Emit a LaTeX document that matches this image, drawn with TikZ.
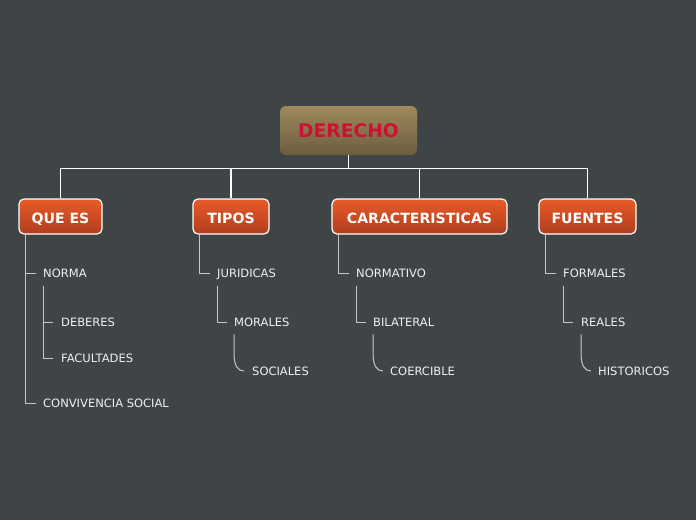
\documentclass[tikz,border=0pt]{standalone}
\usepackage{fontspec}
\setmainfont{DejaVu Sans}
\begin{document}
\begin{tikzpicture}[x=1pt,y=-1pt,
  rootbox/.style={draw=none,rounded corners=6pt,top color=rootTop,bottom color=rootBot,
    minimum width=137pt,minimum height=49pt,inner sep=0pt,text height=13.5pt,text depth=0pt,
    font=\fontsize{18.7}{20}\selectfont\bfseries,text=rootText},
  topicbox/.style={draw=white,line width=1.2pt,rounded corners=5pt,top color=boxTop,bottom color=boxBot,
    minimum height=35pt,inner sep=0pt,text height=13.3pt,text depth=0pt,
    font=\fontsize{14.1}{15}\selectfont\bfseries,text=white},
  leaf/.style={anchor=west,inner sep=0pt,text height=8.4pt,text depth=0pt,
    font=\fontsize{11.5}{12}\selectfont,text=leafText},
  trunk/.style={draw=white,line width=1.4pt},
  stem/.style={draw=stemCol,line width=1pt}]
\definecolor{bg}{HTML}{3F4546}
\definecolor{rootTop}{HTML}{A08A5C}
\definecolor{rootBot}{HTML}{6C5D40}
\definecolor{rootText}{HTML}{CC1133}
\definecolor{boxTop}{HTML}{E85A28}
\definecolor{boxBot}{HTML}{B03E1E}
\definecolor{leafText}{HTML}{F0F0F0}
\definecolor{stemCol}{HTML}{C4C7C7}
\fill[bg] (0,0) rectangle (696,520);
\useasboundingbox (0,0) rectangle (696,520);

\node[rootbox] (root) at (348.5,130.5) {DERECHO};
\node[topicbox,minimum width=83pt] (qe) at (60.5,216.5) {QUE ES};
\node[topicbox,minimum width=76pt] (tipos) at (231,216.5) {TIPOS};
\node[topicbox,minimum width=175pt] (car) at (419.5,216.5) {CARACTERISTICAS};
\node[topicbox,minimum width=97pt] (fue) at (587.5,216.5) {FUENTES};

\coordinate (bar) at ([yshift=-13pt]root.south);
\draw[trunk] (root.south) -- (bar);
\draw[trunk] (bar) -| (qe.north);
\draw[trunk] (bar) -| (tipos.north);
\draw[trunk] (bar) -| (car.north);
\draw[trunk] (bar) -| (fue.north);

% QUE ES
\node[leaf] (norma) at (43,273) {NORMA};
\node[leaf] (deberes) at (61,322) {DEBERES};
\node[leaf] (facultades) at (61,358) {FACULTADES};
\node[leaf] (conv) at (43,403) {CONVIVENCIA SOCIAL};
\draw[stem] ([xshift=7pt]qe.south west) |- ([xshift=-7pt]norma.west);
\draw[stem] ([xshift=7pt]qe.south west) |- ([xshift=-7pt]conv.west);
\draw[stem] ([yshift=-9pt]norma.south west) |- ([xshift=-8pt]deberes.west);
\draw[stem] ([yshift=-9pt]norma.south west) |- ([xshift=-8pt]facultades.west);

% TIPOS
\node[leaf] (jur) at (217,273) {JURIDICAS};
\node[leaf] (mor) at (234,322) {MORALES};
\node[leaf] (soc) at (252,371) {SOCIALES};
\draw[stem] ([xshift=7pt]tipos.south west) |- ([xshift=-7pt]jur.west);
\draw[stem] ([yshift=-9pt]jur.south west) |- ([xshift=-7pt]mor.west);
\draw[stem] ([yshift=-8pt]mor.south west) -- ++(0,18) .. controls +(0,14) and +(-6,0) .. ([xshift=-8pt]soc.west);

% CARACTERISTICAS
\node[leaf] (nor) at (356,273) {NORMATIVO};
\node[leaf] (bil) at (373,322) {BILATERAL};
\node[leaf] (coe) at (390,371) {COERCIBLE};
\draw[stem] ([xshift=7pt]car.south west) |- ([xshift=-7pt]nor.west);
\draw[stem] ([yshift=-9pt]nor.south west) |- ([xshift=-7pt]bil.west);
\draw[stem] ([yshift=-8pt]bil.south west) -- ++(0,18) .. controls +(0,14) and +(-6,0) .. ([xshift=-7pt]coe.west);

% FUENTES
\node[leaf] (for) at (563,273) {FORMALES};
\node[leaf] (rea) at (581,322) {REALES};
\node[leaf] (his) at (598,371) {HISTORICOS};
\draw[stem] ([xshift=7pt]fue.south west) |- ([xshift=-7pt]for.west);
\draw[stem] ([yshift=-9pt]for.south west) |- ([xshift=-8pt]rea.west);
\draw[stem] ([yshift=-8pt]rea.south west) -- ++(0,18) .. controls +(0,14) and +(-6,0) .. ([xshift=-7pt]his.west);
\end{tikzpicture}
\end{document}
